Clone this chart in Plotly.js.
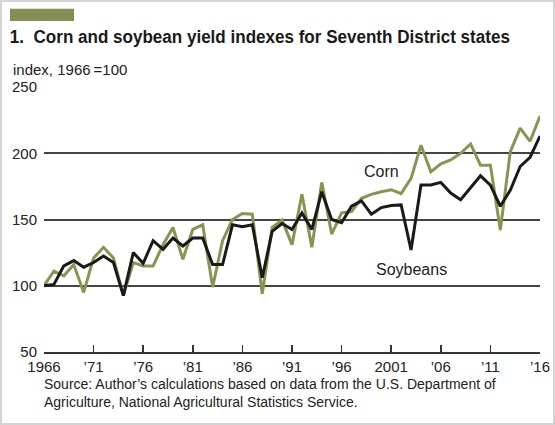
<!DOCTYPE html>
<html>
<head>
<meta charset="utf-8">
<script src="https://cdn.plot.ly/plotly-3.0.1.min.js"></script>
<style>
  html, body { margin: 0; padding: 0; background: #fff; }
  #wrap { position: relative; width: 555px; height: 425px; }
  #chart { width: 555px; height: 425px; }
  #frame { position: absolute; left: 0; top: 0; width: 551px; height: 421px; border: 2px solid #d4d4d4; pointer-events: none; }
</style>
</head>
<body>
<div id="wrap">
  <div id="chart"></div>
  <div id="frame"></div>
</div>
<script>
const years = [];
for (let y = 1966; y <= 2016; y++) years.push(y);

const corn = [
  100, 111, 107.5, 116, 95, 121, 129, 121, 92.5, 117.5,
  115, 115, 131, 144, 120, 142.5, 146, 99, 134, 150,
  154.5, 154, 94, 144, 149.5, 131, 169, 129, 178, 139,
  155, 156, 166, 169, 171, 172.5, 169.5, 181, 206, 186,
  192, 195, 200, 207, 191, 191, 142, 201, 219, 209,
  228
];

const soybeans = [
  100, 101, 115, 119, 114, 117.5, 122.5, 117.5, 92.5, 125,
  117, 134, 127.5, 136, 130, 136, 136, 116, 116, 146,
  144.5, 146, 106, 141, 147, 142.5, 155, 142.5, 171, 150,
  147.5, 160, 164, 154, 159, 160.5, 161, 127, 176, 176,
  178, 170, 165, 174, 183, 176, 160, 172, 190, 197,
  213
];

const xTickVals = [1966, 1971, 1976, 1981, 1986, 1991, 1996, 2001, 2006, 2011, 2016];
const xTickText = ["1966", "\u201971", "\u201976", "\u201981", "\u201986", "\u201991", "\u201996", "2001", "\u201906", "\u201911", "\u201916"];
const yTickVals = [50, 100, 150, 200, 250];

const titleText = "1.  Corn and soybean yield indexes for Seventh District states";
const unitText = "index, 1966\u2009=100";
const sourceText = "Source: Author\u2019s calculations based on data from the U.S. Department of<br>Agriculture, National Agricultural Statistics Service.";
const seriesNames = ["Corn", "Soybeans"];

const FONT = "'Liberation Sans Narrow', 'Arial Narrow', 'Liberation Sans', Arial, sans-serif";
const GREEN = "#8a9452";

const traces = [
  { x: years, y: corn, name: seriesNames[0], type: "scatter", mode: "lines",
    line: { color: GREEN, width: 3 }, hoverinfo: "skip" },
  { x: years, y: soybeans, name: seriesNames[1], type: "scatter", mode: "lines",
    line: { color: "#1a1a1a", width: 3 }, hoverinfo: "skip" }
];

const layout = {
  width: 555, height: 425,
  margin: { l: 44, r: 15, t: 86.5, b: 73 },
  paper_bgcolor: "#fff", plot_bgcolor: "#fff",
  showlegend: false,
  font: { family: FONT, color: "#222", size: 14 },
  xaxis: {
    range: [1966, 2016], tickvals: xTickVals, ticktext: xTickText,
    showgrid: false, zeroline: false,
    showline: true, linecolor: "#333", linewidth: 2,
    ticks: "inside", ticklen: 7, tickwidth: 1.5, tickcolor: "#333",
    tickfont: { family: FONT, size: 15, color: "#222" },
    fixedrange: true
  },
  yaxis: {
    range: [50, 250], tickvals: yTickVals,
    showgrid: true, gridcolor: "#444", gridwidth: 2,
    zeroline: false, showline: false, ticks: "",
    ticklabelstandoff: 6,
    tickfont: { family: FONT, size: 15, color: "#222" },
    fixedrange: true
  },
  shapes: [
    { type: "rect", xref: "paper", yref: "paper",
      x0: -34 / 496, x1: 30 / 496, y0: 1 + 66 / 265.5, y1: 1 + 78.5 / 265.5,
      fillcolor: "#878d52", line: { width: 0 } }
  ],
  annotations: [
    { text: "<b>" + titleText + "</b>", xref: "paper", yref: "paper",
      x: (260 - 44) / 496, y: 1 + 50 / 265.5, xanchor: "center", yanchor: "middle",
      showarrow: false, font: { family: FONT, size: 17.5, color: "#1a1a1a" } },
    { text: unitText, xref: "paper", yref: "paper",
      x: -33 / 496, y: 1 + 18 / 265.5, xanchor: "left", yanchor: "middle",
      showarrow: false, font: { family: FONT, size: 15, color: "#222" } },
    { text: seriesNames[0], xref: "paper", yref: "paper",
      x: (381 - 44) / 496, y: 1 - (171 - 86.5) / 265.5, xanchor: "center", yanchor: "middle",
      showarrow: false, font: { family: FONT, size: 16, color: "#222" } },
    { text: seriesNames[1], xref: "paper", yref: "paper",
      x: (411 - 44) / 496, y: 1 - (269 - 86.5) / 265.5, xanchor: "center", yanchor: "middle",
      showarrow: false, font: { family: FONT, size: 16, color: "#222" } },
    { text: sourceText, xref: "paper", yref: "paper", align: "left",
      x: (42 - 44) / 496, y: -(393 - 352) / 265.5, xanchor: "left", yanchor: "middle",
      showarrow: false, font: { family: FONT, size: 14, color: "#222" } }
  ]
};

Plotly.newPlot("chart", traces, layout, { displayModeBar: false, staticPlot: true }).then(function (gd) {
  // Condense the title to the width of the reference's condensed face, kept centred at x = 260.
  const texts = gd.querySelectorAll("g.annotation text.annotation-text");
  if (texts.length) {
    const t = texts[0];
    const host = gd.getBoundingClientRect();
    const r0 = t.getBoundingClientRect();
    const c = r0.left - host.left + r0.width / 2;
    t.setAttribute("textLength", "500");
    t.setAttribute("lengthAdjust", "spacingAndGlyphs");
    t.setAttribute("transform", "translate(" + (260 - c) + ",0)");
  }
});
</script>
</body>
</html>
